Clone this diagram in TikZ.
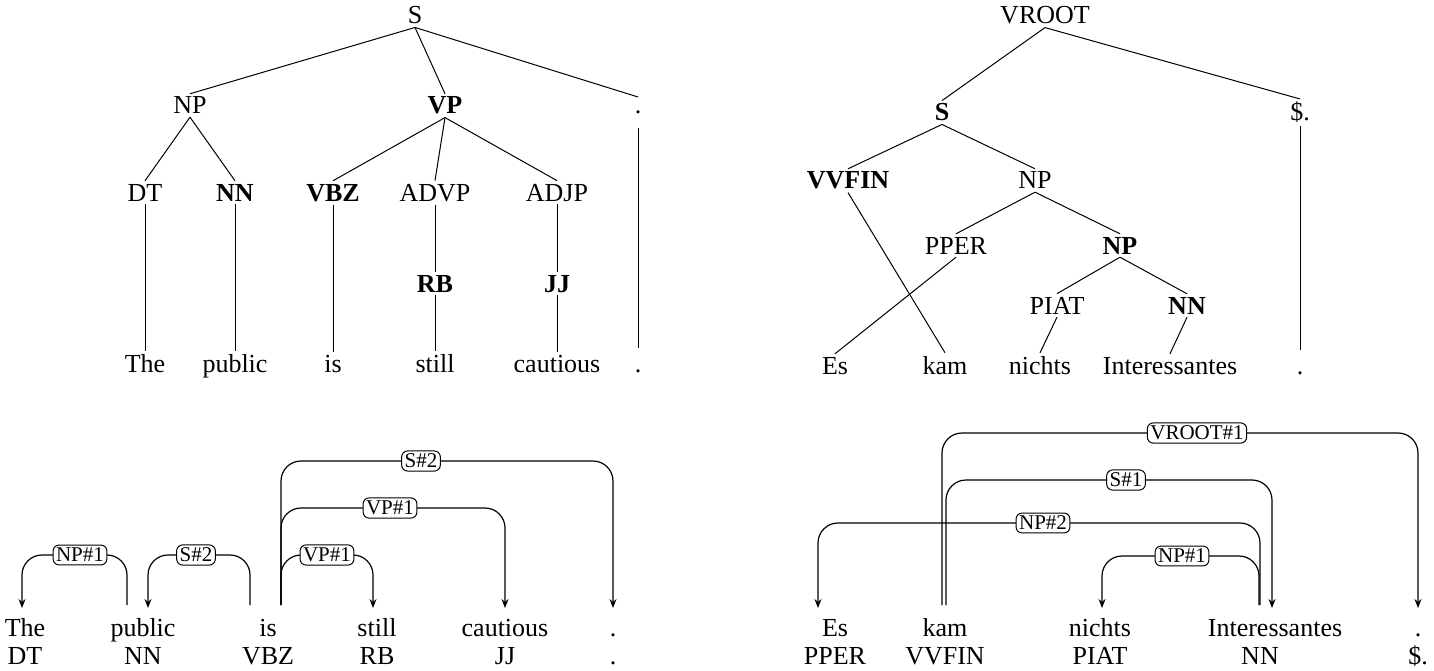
\documentclass[tikz,border=0pt]{standalone}
\usepackage{fontspec}
\setmainfont{Liberation Serif}
\usetikzlibrary{arrows.meta}
\begin{document}
\begin{tikzpicture}[x=1pt,y=-1pt,
  t/.style={font=\fontsize{26}{28}\selectfont,inner sep=3pt,anchor=base},
  b/.style={t,font=\fontsize{26}{28}\selectfont\bfseries},
  lbl/.style={draw,fill=white,rounded corners=6pt,font=\fontsize{21}{23}\selectfont,inner sep=3pt,line width=1pt},
  e/.style={line width=1pt},
  arc/.style={line width=1.2pt,-{Stealth[length=9pt,width=7pt,inset=3pt]},rounded corners=20pt}]
\path[use as bounding box] (0,0) rectangle (1434,671);
% ---------- left tree
\node[t] (S) at (415,24) {S};
\node[t] (NP) at (190,114) {NP};
\node[b] (VP) at (445,114) {VP};
\node[t] (P) at (638,114) {.};
\node[t] (DT) at (145,201) {DT};
\node[b] (NN) at (235,201) {NN};
\node[b] (VBZ) at (333,201) {VBZ};
\node[t] (ADVP) at (435,201) {ADVP};
\node[t] (ADJP) at (557,201) {ADJP};
\node[b] (RB) at (435,292) {RB};
\node[b] (JJ) at (557,292) {JJ};
\node[t] (w1) at (145,372) {The};
\node[t] (w2) at (235,372) {public};
\node[t] (w3) at (333,372) {is};
\node[t] (w4) at (435,372) {still};
\node[t] (w5) at (557,372) {cautious};
\node[t] (w6) at (638,372) {.};
\draw[e] (S.south) -- (NP.north); \draw[e] (S.south) -- (VP.north); \draw[e] (S.south) -- (638,97);
\draw[e] (NP.south) -- (DT.north); \draw[e] (NP.south) -- (NN.north);
\draw[e] (VP.south) -- (VBZ.north); \draw[e] (VP.south) -- (ADVP.north); \draw[e] (VP.south) -- (ADJP.north);
\draw[e] (DT.south) -- (w1.north); \draw[e] (NN.south) -- (w2.north); \draw[e] (VBZ.south) -- (w3.north);
\draw[e] (ADVP.south) -- (RB.north); \draw[e] (ADJP.south) -- (JJ.north);
\draw[e] (RB.south) -- (w4.north); \draw[e] (JJ.south) -- (w5.north);
\draw[e] (638,128) -- (638,348);
% ---------- right tree
\node[t] (VR) at (1045,24) {VROOT};
\node[b] (S2) at (942,121) {S};
\node[t] (D) at (1300,121) {\$.};
\node[b] (VV) at (848,189) {VVFIN};
\node[t] (NP2) at (1035,189) {NP};
\node[t] (PPER) at (956,254) {PPER};
\node[b] (NP3) at (1120,254) {NP};
\node[t] (PIAT) at (1057,314) {PIAT};
\node[b] (NN2) at (1187,314) {NN};
\node[t] (r1) at (835,374) {Es};
\node[t] (r2) at (945,374) {kam};
\node[t] (r3) at (1040,374) {nichts};
\node[t] (r4) at (1170,374) {Interessantes};
\node[t] (r5) at (1300,374) {.};
\draw[e] (VR.south) -- (S2.north); \draw[e] (VR.south) -- (D.north);
\draw[e] (S2.south) -- (VV.north); \draw[e] (S2.south) -- (NP2.north);
\draw[e] (NP2.south) -- (PPER.north); \draw[e] (NP2.south) -- (NP3.north);
\draw[e] (NP3.south) -- (PIAT.north); \draw[e] (NP3.south) -- (NN2.north);
\draw[e] (VV.south) -- (r2.north); \draw[e] (PPER.south) -- (r1.north);
\draw[e] (PIAT.south) -- (r3.north); \draw[e] (NN2.south) -- (r4.north);
\draw[e] (D.south) -- (1300,350);
% ---------- bottom left
\node[t] (a1) at (25,636) {The};   \node[t] at (25,664) {DT};
\node[t] (a2) at (143,636) {public}; \node[t] at (143,664) {NN};
\node[t] (a3) at (268,636) {is};   \node[t] at (268,664) {VBZ};
\node[t] (a4) at (377,636) {still}; \node[t] at (377,664) {RB};
\node[t] (a5) at (505,636) {cautious}; \node[t] at (505,664) {JJ};
\node[t] (a6) at (613,636) {.};    \node[t] at (613,664) {.};
\draw[arc] (127,605) |- (75,555) -| (22,608);
\node[lbl] at (80,555) {NP\#1};
\draw[arc] (250,605) |- (200,555) -| (148,608);
\node[lbl] at (196,555) {S\#2};
\draw[arc] (281,605) |- (320,555) -| (373,608);
\node[lbl] at (327,555) {VP\#1};
\draw[arc] (281,605) |- (390,508) -| (505,608);
\node[lbl] at (390,508) {VP\#1};
\draw[arc] (281,605) |- (420,461) -| (613,608);
\node[lbl] at (421,461) {S\#2};
% ---------- bottom right
\node[t] (b1) at (835,636) {Es};     \node[t] at (835,664) {PPER};
\node[t] (b2) at (945,636) {kam};    \node[t] at (945,664) {VVFIN};
\node[t] (b3) at (1100,636) {nichts}; \node[t] at (1100,664) {PIAT};
\node[t] (b4) at (1275,636) {Interessantes}; \node[t] at (1260,664) {NN};
\node[t] (b5) at (1418,636) {.};     \node[t] at (1418,664) {\$.};
\draw[arc] (942,605) |- (1197,433) -| (1418,608);
\node[lbl] at (1197,433) {VROOT\#1};
\draw[arc] (946,605) |- (1126,480) -| (1272,608);
\node[lbl] at (1126,480) {S\#1};
\draw[arc] (1260,605) |- (1043,523) -| (818,608);
\node[lbl] at (1043,523) {NP\#2};
\draw[arc] (1259,605) |- (1182,556) -| (1102,608);
\node[lbl] at (1182,556) {NP\#1};
\end{tikzpicture}
\end{document}
